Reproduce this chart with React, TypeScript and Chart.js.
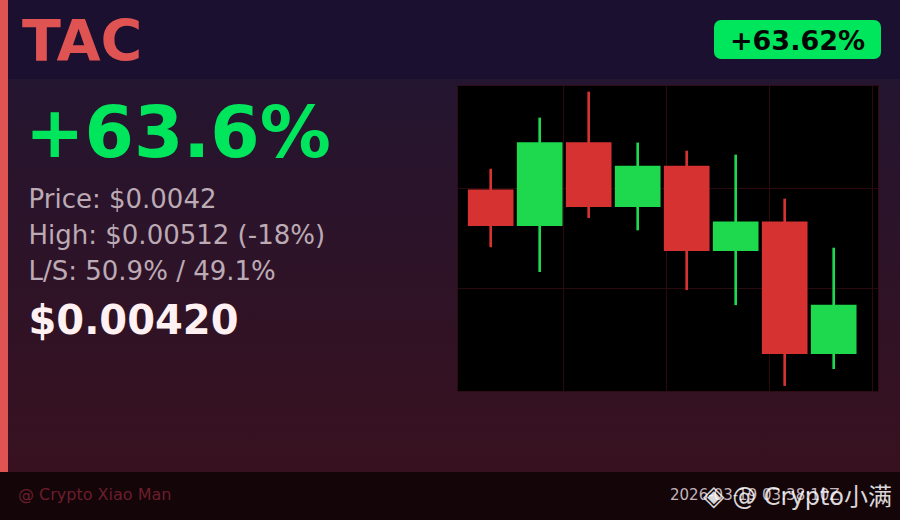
import React, { useEffect, useRef } from "react";
import { Chart, registerables } from "chart.js";

Chart.register(...registerables);

// ---- text content ----
const SYMBOL = "TAC";
const CHANGE_BADGE = "+63.62%";
const CHANGE_BIG = "+63.6%";
const STAT_LINES = ["Price: $0.0042", "High: $0.00512 (-18%)", "L/S: 50.9% / 49.1%"];
const PRICE_BIG = "$0.00420";
const FOOTER_LEFT = "@ Crypto Xiao Man";
const FOOTER_TIME = "2026-03-19 03:38:10Z";
const WATERMARK_ICON = "◈";
const WATERMARK = " @ Crypto小满";

// ---- candle data ----
const CANDLE_INDEX = [0, 1, 2, 3, 4, 5, 6, 7];
const OPEN = [0.004697, 0.004543, 0.004902, 0.004625, 0.0048, 0.004435, 0.004559, 0.00399];
const CLOSE = [0.004543, 0.004902, 0.004625, 0.0048, 0.004435, 0.004559, 0.00399, 0.0042];
const HIGH = [0.004787, 0.005008, 0.00512, 0.0049, 0.004865, 0.004848, 0.004658, 0.004446];
const LOW = [0.004451, 0.004344, 0.004577, 0.004524, 0.004266, 0.004201, 0.003852, 0.003925];

// ---- axes ----
const X_RANGE = [-0.667, 7.904];
const Y_RANGE = [0.0038286, 0.0051459];
const GRID_X = [1.476, 3.578, 5.68, 7.782];
const GRID_Y = [0.004705, 0.004273];

const UP = "#1ed84e";
const DOWN = "#d63232";
const FONT = "'DejaVu Sans', 'Noto Sans CJK SC', sans-serif";

function CandleChart() {
  const ref = useRef<HTMLCanvasElement | null>(null);
  useEffect(() => {
    if (!ref.current) return;
    const colors = CANDLE_INDEX.map((i) => (CLOSE[i] >= OPEN[i] ? UP : DOWN));
    const gridCommon = {
      color: "#2a0a0e",
      lineWidth: 1,
      drawTicks: false,
      offset: false,
    };
    const chart = new Chart(ref.current, {
      type: "bar",
      data: {
        datasets: [
          {
            label: "body",
            data: CANDLE_INDEX.map((i) => ({ x: i, y: [OPEN[i], CLOSE[i]] })) as any,
            backgroundColor: colors,
            borderWidth: 0,
            barThickness: 45,
            grouped: false,
          } as any,
          {
            label: "wick",
            data: CANDLE_INDEX.map((i) => ({ x: i, y: [LOW[i], HIGH[i]] })) as any,
            backgroundColor: colors,
            borderWidth: 0,
            barThickness: 2,
            grouped: false,
          } as any,
        ],
      },
      options: {
        animation: false,
        responsive: false,
        maintainAspectRatio: false,
        layout: { padding: 0 },
        plugins: { legend: { display: false }, tooltip: { enabled: false } },
        scales: {
          x: {
            type: "linear",
            min: X_RANGE[0],
            max: X_RANGE[1],
            offset: false,
            grid: gridCommon,
            border: { display: false },
            ticks: { display: false },
            afterBuildTicks: (scale: any) => {
              scale.ticks = GRID_X.map((v) => ({ value: v }));
            },
          },
          y: {
            type: "linear",
            min: Y_RANGE[0],
            max: Y_RANGE[1],
            grid: gridCommon,
            border: { display: false },
            ticks: { display: false },
            afterBuildTicks: (scale: any) => {
              scale.ticks = GRID_Y.map((v) => ({ value: v }));
            },
          },
        },
      } as any,
    });
    return () => chart.destroy();
  }, []);
  return <canvas ref={ref} width={420} height={305} style={{ display: "block" }} />;
}

function Text(props: {
  left?: number;
  right?: number;
  baseline: number;
  size: number;
  color: string;
  bold?: boolean;
  children: React.ReactNode;
}) {
  const { left, right, baseline, size, color, bold, children } = props;
  return (
    <div
      style={{
        position: "absolute",
        left,
        right,
        top: baseline - 0.846 * size,
        fontSize: size,
        lineHeight: `${size}px`,
        height: size,
        color,
        fontWeight: bold ? 700 : 400,
        fontFamily: FONT,
        whiteSpace: "nowrap",
      }}
    >
      {children}
    </div>
  );
}

export default function App() {
  useEffect(() => {
    document.body.style.margin = "0";
    document.body.style.background = "#140509";
  }, []);
  return (
    <div
      style={{
        position: "relative",
        width: 900,
        height: 520,
        overflow: "hidden",
        fontFamily: FONT,
        background: "#140509",
      }}
    >
      {/* header band */}
      <div style={{ position: "absolute", left: 0, top: 0, width: 900, height: 79, background: "#1b1030" }} />
      {/* body gradient */}
      <div
        style={{
          position: "absolute",
          left: 0,
          top: 79,
          width: 900,
          height: 393,
          background: "linear-gradient(180deg, #241530 0%, #38111f 100%)",
        }}
      />
      {/* footer */}
      <div style={{ position: "absolute", left: 0, top: 472, width: 900, height: 48, background: "#140509" }} />
      {/* left stripe */}
      <div style={{ position: "absolute", left: 0, top: 0, width: 8, height: 472, background: "#e05353" }} />

      <Text left={22} baseline={61} size={57} color="#e05353" bold>
        {SYMBOL}
      </Text>

      <div
        style={{
          position: "absolute",
          left: 714,
          top: 20,
          width: 167,
          height: 39,
          borderRadius: 7,
          background: "#00e65c",
          color: "#050505",
          fontFamily: FONT,
          fontWeight: 700,
          fontSize: 27,
          lineHeight: "27px",
          display: "flex",
          alignItems: "center",
          justifyContent: "center",
          paddingTop: 2,
          boxSizing: "border-box",
        }}
      >
        {CHANGE_BADGE}
      </div>

      <Text left={25} baseline={157} size={71} color="#00e65c" bold>
        {CHANGE_BIG}
      </Text>

      {STAT_LINES.map((s, i) => (
        <Text key={i} left={28.5} baseline={207.5 + i * 36} size={26} color="#bcaab4">
          {s}
        </Text>
      ))}

      <Text left={28.5} baseline={333.5} size={40} color="#fff0f2" bold>
        {PRICE_BIG}
      </Text>

      <div
        style={{
          position: "absolute",
          left: 457,
          top: 85,
          width: 422,
          height: 307,
          border: "1px solid #2e0c14",
          boxSizing: "border-box",
          background: "#000",
        }}
      >
        <CandleChart />
      </div>

      <Text left={18} baseline={501} size={16} color="#6b1e2c">
        {FOOTER_LEFT}
      </Text>
      <Text left={670} baseline={501} size={15} color="#c4b4bc">
        {FOOTER_TIME}
      </Text>
      <Text right={8} baseline={504} size={24} color="rgba(255,255,255,0.85)">
        <span style={{ fontSize: 28 }}>{WATERMARK_ICON}</span>
        {WATERMARK}
      </Text>
    </div>
  );
}
